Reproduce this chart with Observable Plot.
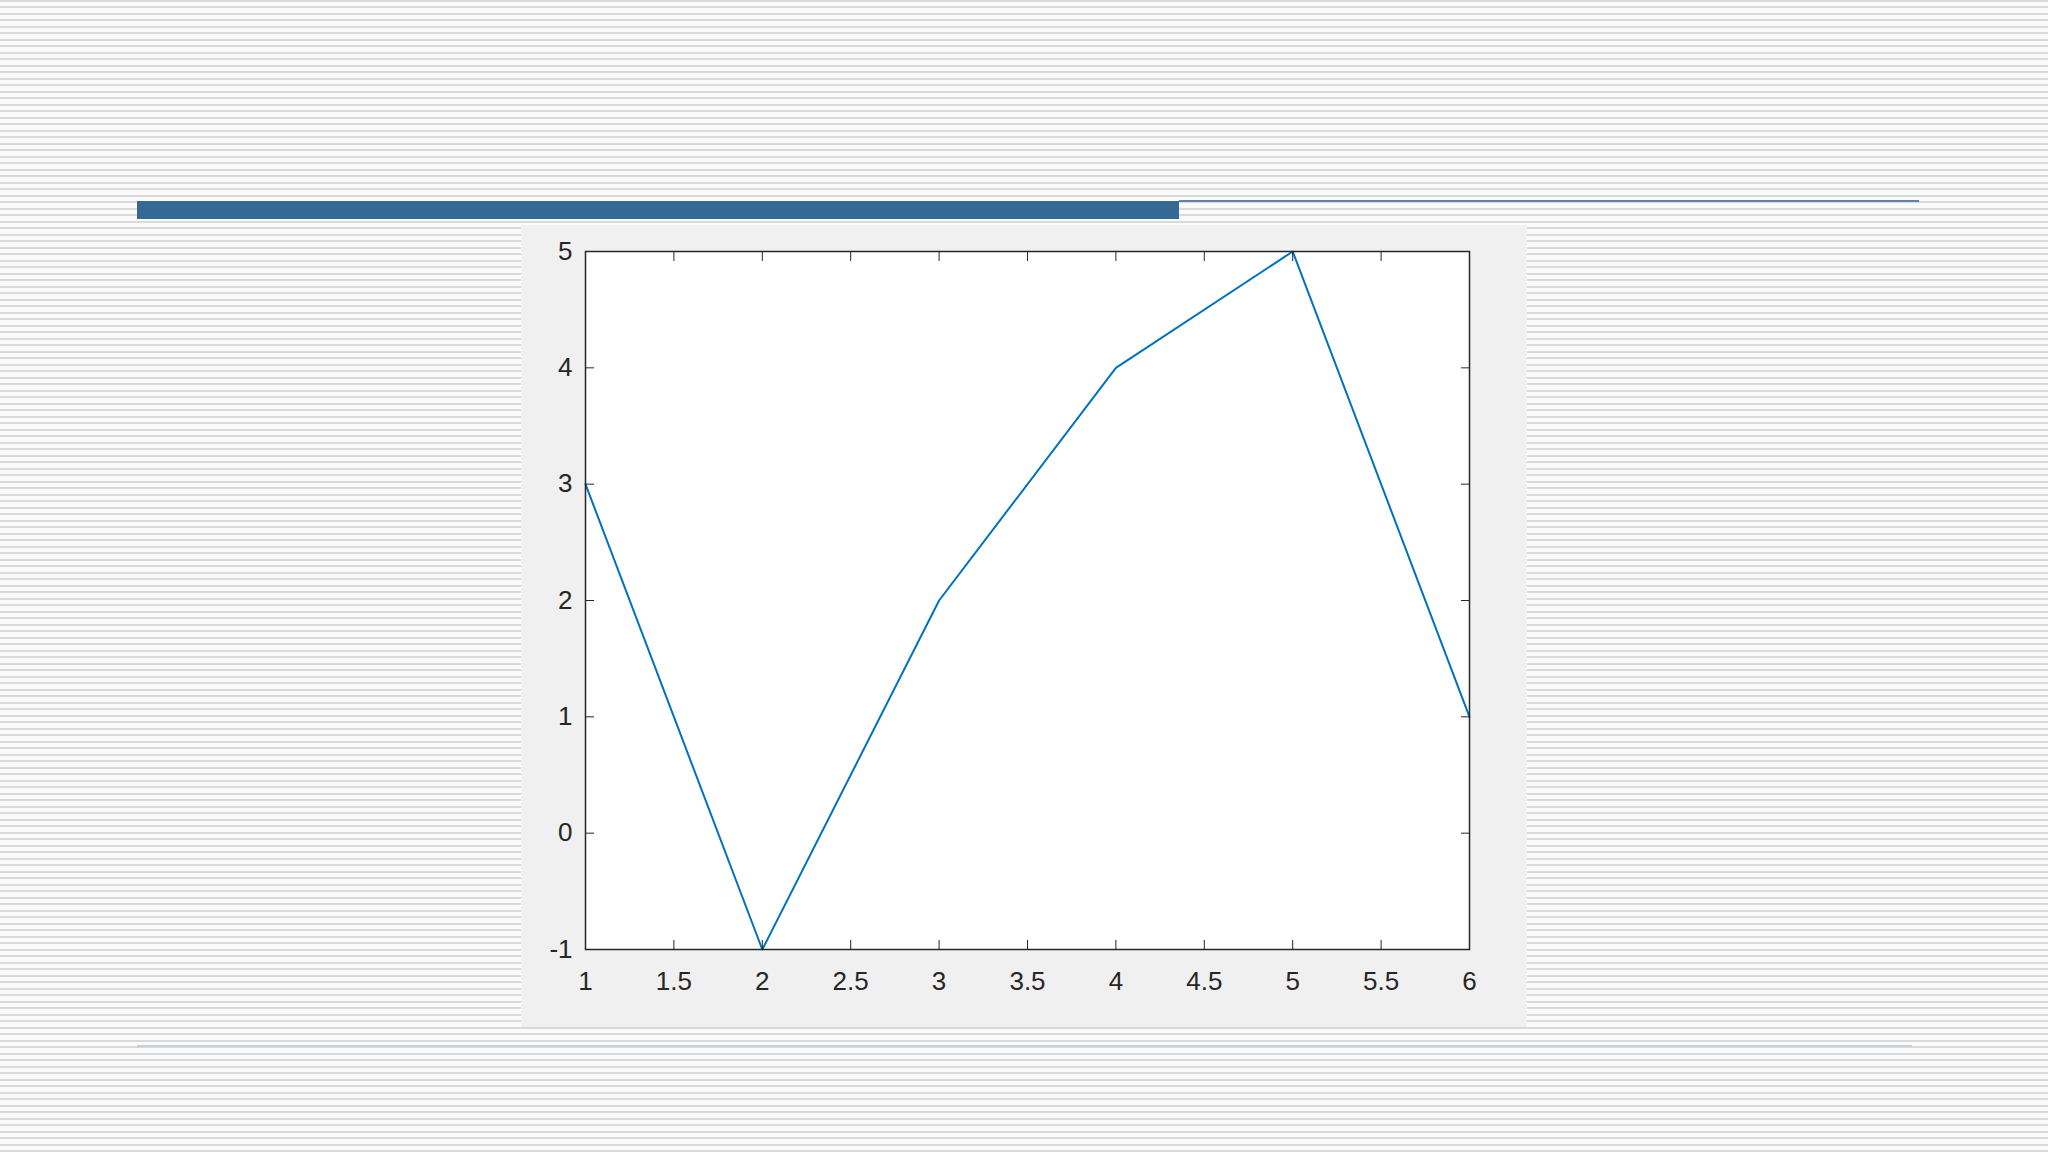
<!DOCTYPE html>
<html>
<head>
<meta charset="utf-8">
<script src="https://cdn.jsdelivr.net/npm/d3@7"></script>
<script src="https://cdn.jsdelivr.net/npm/@observablehq/plot@0.6"></script>
<style>
  html, body { margin: 0; padding: 0; }
  body {
    width: 2048px; height: 1152px; position: relative; overflow: hidden;
    background: repeating-linear-gradient(to bottom, #dadada 0px, #dadada 2px, #fbfbfb 2px, #fbfbfb 6.5px);
    font-family: "Liberation Sans", Arial, sans-serif;
  }
  #barThick { position: absolute; left: 137px; top: 201px; width: 1042px; height: 18px; background: #346895; }
  #barThin { position: absolute; left: 1179px; top: 200px; width: 740px; height: 2px; background: #5f84aa; }
  #bottomLine { position: absolute; left: 137px; top: 1045px; width: 1775px; height: 2px; background: #c3cfdc; }
  #panel { position: absolute; left: 521px; top: 225px; width: 1006px; height: 802px; background: #f0f0f0; }
</style>
</head>
<body>
<div id="barThick"></div>
<div id="barThin"></div>
<div id="bottomLine"></div>
<div id="panel"></div>
<script>
const xValues = [1, 2, 3, 4, 5, 6];
const yValues = [3, -1, 2, 4, 5, 1];
const xTicks = [1, 1.5, 2, 2.5, 3, 3.5, 4, 4.5, 5, 5.5, 6];
const yTicks = [-1, 0, 1, 2, 3, 4, 5];

const data = xValues.map((x, i) => ({x, y: yValues[i]}));
const tickColor = "#262626";

const chart = Plot.plot({
  width: 1006,
  height: 802,
  marginLeft: 64,
  marginRight: 58,
  marginTop: 26,
  marginBottom: 78,
  style: {background: "#f0f0f0", fontFamily: "'Liberation Sans', Arial, sans-serif", fontSize: "26px", color: tickColor},
  x: {domain: [1, 6]},
  y: {domain: [-1, 5]},
  marks: [
    Plot.frame({fill: "white", stroke: "none"}),
    Plot.line(data, {x: "x", y: "y", stroke: "#0072BD", strokeWidth: 2}),
    Plot.axisX({ticks: xTicks, tickSize: -9, tickPadding: 31, tickFormat: d => String(d), label: null, stroke: tickColor, fill: tickColor}),
    Plot.axisX({anchor: "top", ticks: xTicks, tickSize: -9, tickFormat: () => "", label: null, stroke: tickColor}),
    Plot.axisY({ticks: yTicks, tickSize: -9, tickPadding: 22, tickFormat: d => String(d), label: null, stroke: tickColor, fill: tickColor}),
    Plot.axisY({anchor: "right", ticks: yTicks, tickSize: -9, tickFormat: () => "", label: null, stroke: tickColor}),
    Plot.frame({stroke: tickColor, strokeWidth: 1.5})
  ]
});
chart.style.position = "absolute";
chart.style.left = "521px";
chart.style.top = "225px";
document.body.appendChild(chart);
</script>
</body>
</html>
